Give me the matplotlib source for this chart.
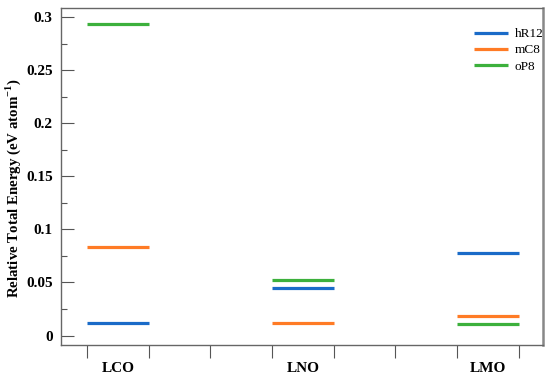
import matplotlib
matplotlib.use('Agg')
import matplotlib.pyplot as plt
import numpy as np

plt.rcParams['font.family'] = ['Liberation Serif', 'DejaVu Serif']
plt.rcParams['font.weight'] = 'bold'
plt.rcParams['mathtext.fontset'] = 'custom'
plt.rcParams['mathtext.rm'] = 'Liberation Serif:bold'
plt.rcParams['mathtext.bf'] = 'Liberation Serif:bold'

compounds = ['LCO', 'LNO', 'LMO']
phases = ['hR12', 'mC8', 'oP8']
hR12 = [0.012, 0.045, 0.078]
mC8 = [0.083, 0.012, 0.018]
oP8 = [0.293, 0.052, 0.011]
colors = ['#1a6bc8', '#ff7b25', '#3cb03c']

centers = np.array([0.5, 3.5, 6.5])

fig, ax = plt.subplots(figsize=(5.5, 3.79), dpi=100)
fig.subplots_adjust(left=0.111, right=0.988, top=0.979, bottom=0.09)

for name, vals, c in zip(phases, [hR12, mC8, oP8], colors):
    ax.hlines(vals, centers - 0.5, centers + 0.5, colors=c, linewidth=2.3, label=name)

ax.set_xlim(-0.42, 7.4)
ax.set_ylim(-0.0088, 0.3085)

ax.set_yticks([0, 0.05, 0.1, 0.15, 0.2, 0.25, 0.3])
ax.set_yticklabels(['0', '0.05', '0.1', '0.15', '0.2', '0.25', '0.3'])
ax.set_yticks(np.arange(0.025, 0.3, 0.05), minor=True)
ax.tick_params(axis='y', which='major', direction='in', length=9, width=0.8,
               color='#555555', labelsize=11, pad=6)
ax.tick_params(axis='y', which='minor', direction='in', length=4, width=0.8, color='#555555')

ax.set_xticks(centers)
ax.set_xticklabels(compounds)
ax.set_xticks(np.arange(0, 8), minor=True)
ax.tick_params(axis='x', which='major', length=0, labelsize=11, pad=12)
ax.tick_params(axis='x', which='minor', direction='out', length=9, width=0.8, color='#555555')

for s in ['left', 'bottom', 'top']:
    ax.spines[s].set_color('#666666')
    ax.spines[s].set_linewidth(1.0)
ax.spines['right'].set_color('#888888')
ax.spines['right'].set_linewidth(1.8)

ax.set_ylabel(r'Relative Total Energy (eV atom$^{-1}$)', fontsize=10.7, fontweight='bold')
ax.yaxis.set_label_coords(-0.079, 0.465)

leg = ax.legend(loc='upper right', frameon=False, handlelength=2.6,
                prop={'family': 'Liberation Serif', 'weight': 'normal', 'size': 9.5},
                handletextpad=0.5, labelspacing=0.3, bbox_to_anchor=(1.025, 0.976))

fig.savefig('out.png', dpi=100)
